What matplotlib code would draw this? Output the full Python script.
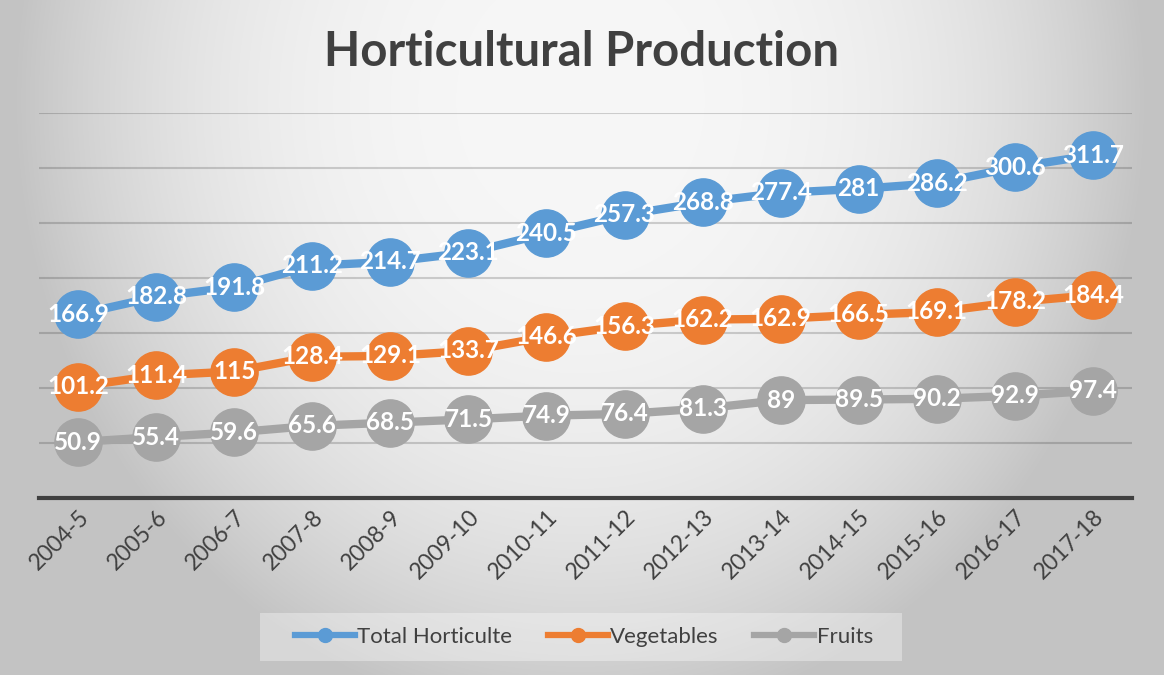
import numpy as np
import matplotlib
matplotlib.use("Agg")
import matplotlib.pyplot as plt
from matplotlib.lines import Line2D
from matplotlib.patches import Rectangle

plt.rcParams["font.family"] = ["Lato", "DejaVu Sans"]

YEARS = ["2004-5", "2005-6", "2006-7", "2007-8", "2008-9", "2009-10", "2010-11",
         "2011-12", "2012-13", "2013-14", "2014-15", "2015-16", "2016-17", "2017-18"]
TOTAL = [166.9, 182.8, 191.8, 211.2, 214.7, 223.1, 240.5,
         257.3, 268.8, 277.4, 281, 286.2, 300.6, 311.7]
VEGETABLES = [101.2, 111.4, 115, 128.4, 129.1, 133.7, 146.6,
              156.3, 162.2, 162.9, 166.5, 169.1, 178.2, 184.4]
FRUITS = [50.9, 55.4, 59.6, 65.6, 68.5, 71.5, 74.9,
          76.4, 81.3, 89, 89.5, 90.2, 92.9, 97.4]

SERIES = [("Total Horticulte", TOTAL, "#5B9BD5"),
          ("Vegetables", VEGETABLES, "#ED7D31"),
          ("Fruits", FRUITS, "#A5A5A5")]

W, H = 1164, 675
fig = plt.figure(figsize=(W / 100, H / 100), dpi=100)

# radial grey background
bg = fig.add_axes([0, 0, 1, 1], zorder=-10)
yy, xx = np.mgrid[0:H, 0:W]
r = np.sqrt(((xx - 580) / 580.0) ** 2 + ((yy - 100) / 640.0) ** 2)
shade = np.clip(247 - 55 * r ** 2.6, 195, 250) / 255.0
bg.imshow(np.dstack([shade] * 3), aspect="auto", extent=[0, 1, 0, 1])
bg.axis("off")

ax = fig.add_axes([39 / W, 1 - 498 / H, (1132 - 39) / W, (498 - 113) / H])
ax.patch.set_alpha(0)
x = np.arange(len(YEARS))

for name, vals, col in SERIES:
    ax.plot(x, vals, color=col, lw=6, marker="o", ms=34, mec=col, mfc=col,
            solid_capstyle="round", zorder=3)
    for xi, v in zip(x, vals):
        ax.text(xi, v, f"{v:g}", ha="center", va="center", color="white",
                fontsize=17.5, fontweight="bold", zorder=4)

ax.set_xlim(-0.5, len(YEARS) - 0.5)
ax.set_ylim(0, 350)
ax.set_yticks(np.arange(50, 351, 50))
ax.yaxis.grid(True, color="black", alpha=0.17, lw=1.5)
ax.set_axisbelow(True)
ax.tick_params(axis="y", left=False, labelleft=False)
ax.tick_params(axis="x", length=0, pad=6)
for s in ["top", "right", "left"]:
    ax.spines[s].set_visible(False)
ax.spines["bottom"].set_color("#404040")
ax.spines["bottom"].set_linewidth(3)
ax.set_xticks(x)
ax.set_xticklabels(YEARS, rotation=45, ha="right", va="top", rotation_mode="anchor",
                   fontsize=16.5, color="#404040")

fig.text(581 / W, 1 - 52 / H, "Horticultural Production", ha="center", va="center",
         fontsize=34, fontweight="bold", color="#404040")

# legend
fig.patches.append(Rectangle((260 / W, 1 - 661 / H), 642 / W, 48 / H,
                             transform=fig.transFigure, facecolor="white",
                             alpha=0.35, edgecolor="none", zorder=1))
handles = [Line2D([0], [0], color=col, lw=4.5, marker="o", ms=10, mfc=col, mec=col)
           for _, _, col in SERIES]
fig.legend(handles, [s[0] for s in SERIES], loc="center",
           bbox_to_anchor=(584 / W, 1 - 637 / H), ncol=3, frameon=False,
           fontsize=16, handlelength=2.7, handletextpad=0.1, columnspacing=1.6,
           labelcolor="#404040")

fig.savefig("out.png", dpi=100)
